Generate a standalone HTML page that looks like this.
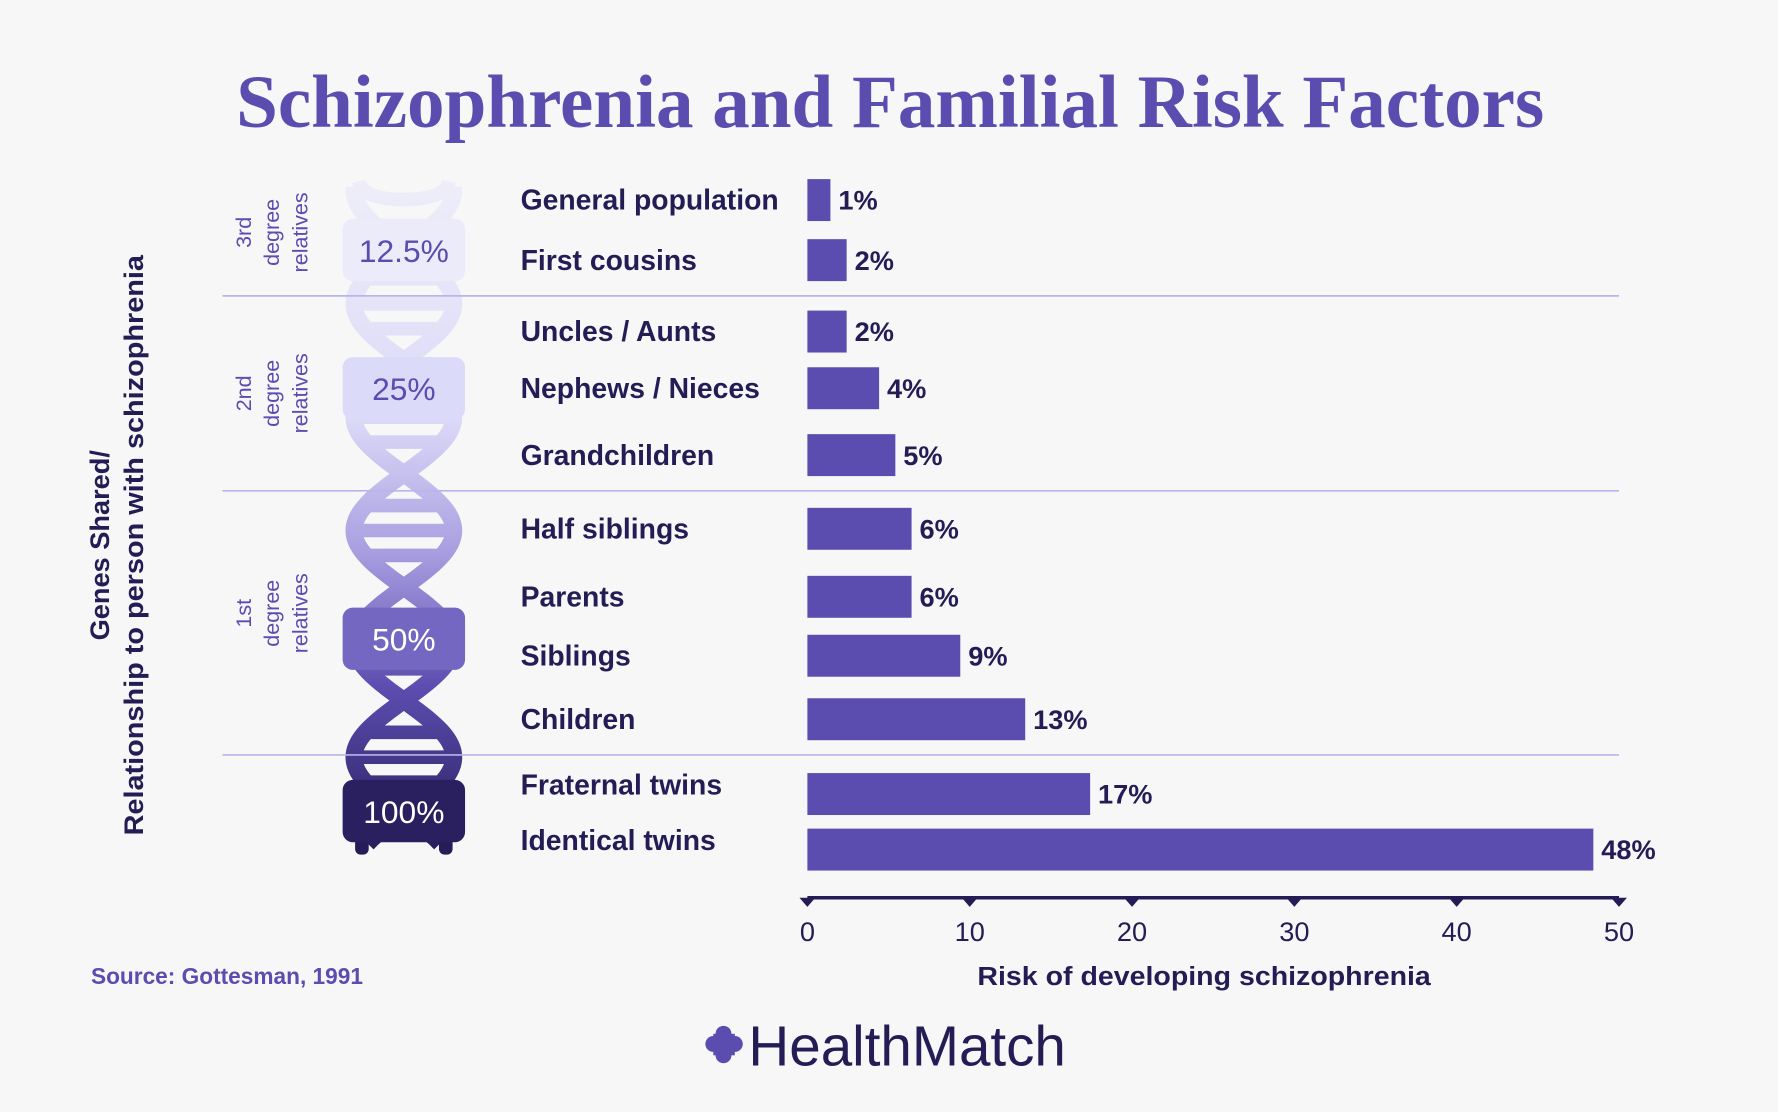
<!DOCTYPE html>
<html><head><meta charset="utf-8"><style>
html,body{margin:0;padding:0;background:#f7f7f7;}
svg{display:block;font-family:"Liberation Sans",sans-serif;}
</style></head><body>
<svg width="1778" height="1112" viewBox="0 0 1568 981" xmlns="http://www.w3.org/2000/svg">
<defs>
<linearGradient id="dg" gradientUnits="userSpaceOnUse" x1="0" y1="160" x2="0" y2="755">
<stop offset="0" stop-color="#eeedf9"/><stop offset="0.35" stop-color="#dcdaf8"/><stop offset="0.55" stop-color="#a89ee0"/><stop offset="0.75" stop-color="#5c4db0"/><stop offset="1" stop-color="#251c58"/>
</linearGradient>
</defs>
<rect width="1568" height="981" fill="#f7f7f7"/>
<text x="785" y="112" text-anchor="middle" font-family="Liberation Serif,serif" font-weight="bold" font-size="66" fill="#5b4db0" textLength="1154" lengthAdjust="spacingAndGlyphs">Schizophrenia and Familial Risk Factors</text>
<g id="dna"></g>
<g id="seps"></g>
<g id="groups"></g>
<g id="bars"></g>
<g id="axis"></g>
<text transform="translate(96,481) rotate(-90)" text-anchor="middle" font-size="24" font-weight="bold" fill="#241d55">Genes Shared/</text>
<text transform="translate(126,481) rotate(-90)" text-anchor="middle" font-size="24" font-weight="bold" fill="#241d55" textLength="512" lengthAdjust="spacingAndGlyphs">Relationship to person with schizophrenia</text>
<text x="1062" y="869" text-anchor="middle" font-size="23" font-weight="bold" fill="#241d55" textLength="400" lengthAdjust="spacingAndGlyphs">Risk of developing schizophrenia</text>
<text x="80" y="868" font-size="20" font-weight="bold" fill="#5b4db0">Source: Gottesman, 1991</text>
<g>
<g fill="#5b4db0"><circle cx="638" cy="912" r="7"/><circle cx="638" cy="931" r="7"/><circle cx="629" cy="921" r="7"/><circle cx="648" cy="921" r="7"/><rect x="629" y="912" width="19" height="19"/></g>
<text x="660" y="940" font-size="50" fill="#241d55" textLength="280" lengthAdjust="spacingAndGlyphs">HealthMatch</text>
</g>
<script>
const categories=["General population","First cousins","Uncles / Aunts","Nephews / Nieces","Grandchildren","Half siblings","Parents","Siblings","Children","Fraternal twins","Identical twins"];
const risks=[1,2,2,4,5,6,6,9,13,17,48];
const valueLabels=["1%","2%","2%","4%","5%","6%","6%","9%","13%","17%","48%"];
const ticks=[0,10,20,30,40,50];
const NS="http://www.w3.org/2000/svg";
function mk(t,a,p){const e=document.createElementNS(NS,t);for(const k in a)e.setAttribute(k,a[k]);p.appendChild(e);return e;}
const x0=712,x1=1428,xs=v=>x0+(x1-x0)*v/50;
const rowY=[176,229,292,342,401,466,526,578,634,700,749];
const bars=document.getElementById('bars');
categories.forEach((c,i)=>{
 const y=rowY[i];
 const w=xs(risks[i])-x0+6;
 const r=mk('rect',{x:x0,y:y-18,width:w,height:37,fill:'#5b4db0'},bars);
 
 
 const l=mk('text',{x:459,y:y+9+(i>=9?-8:0),'font-size':25,'font-weight':'bold',fill:'#241d55'},bars);
 l.textContent=c;
 
 
 const v=mk('text',{x:x0+w+7,y:y+9,'font-size':24,'font-weight':'bold',fill:'#241d55'},bars);
 v.textContent=valueLabels[i];
 
 
});
const ax=document.getElementById('axis');
const al=mk('line',{x1:x0,x2:x1,y1:792,y2:792,stroke:'#241d55','stroke-width':3},ax);


ticks.forEach(t=>{
 const x=xs(t);
 mk('path',{d:`M${x-7} 792 L${x+7} 792 L${x} 800 Z`,fill:'#241d55'},ax);
 const tl=mk('text',{x:x,y:830,'text-anchor':'middle','font-size':24,fill:'#241d55'},ax);
 tl.textContent=t;
 
 
});
const seps=document.getElementById('seps');
[261,433,666].forEach(y=>{
 const s=mk('line',{x1:196,x2:1428,y1:y,y2:y,stroke:'#b9b4ec','stroke-width':1.5},seps);
 
 
});
const groups=document.getElementById('groups');
[["3rd",205],["2nd",347],["1st",541]].forEach(([g,cy])=>{
 ["X degree","degree","relatives"].forEach((w,j)=>{
  const t=mk('text',{transform:`translate(${221+j*25},${cy}) rotate(-90)`,'text-anchor':'middle','font-size':19,fill:'#5b4db0'},groups);
  t.textContent=j==0?g:w;
  
  
 });
});
// DNA
const dna=document.getElementById('dna');
const cx=356,A=44,per=200,ph=218;
let p1='',p2='';
for(let y=165;y<=745;y+=3){const s=Math.sin(Math.PI*2*(y-ph)/per)*A;p1+=(p1?'L':'M')+(cx+s)+' '+y;p2+=(p2?'L':'M')+(cx-s)+' '+y;}
mk('path',{d:p1,stroke:'url(#dg)','stroke-width':15,fill:'none'},dna);
mk('path',{d:p2,stroke:'url(#dg)','stroke-width':15,fill:'none'},dna);
for(let c=268;c<740;c+=100){[-22,0,22].forEach(o=>{const y=c+o;const w=Math.abs(Math.sin(Math.PI*2*(y-ph)/per)*A);mk('rect',{x:cx-w,y:y-6,width:2*w,height:12,rx:5,fill:'url(#dg)'},dna);});}
mk('path',{d:'M316 160 Q320 176 356 176 Q392 176 396 160',stroke:'url(#dg)','stroke-width':12,fill:'none'},dna);
mk('rect',{x:313,y:738,width:12,height:16,rx:5,fill:'#251c58'},dna);
mk('rect',{x:387,y:738,width:12,height:16,rx:5,fill:'#251c58'},dna);
[["12.5%",193,'#ecebfa','#5b4db0'],["25%",315,'#dcdaf9','#5b4db0'],["50%",536,'#7467c2','#ffffff'],["100%",688,'#2a2060','#ffffff']].forEach(([t,y,f,tc])=>{
 mk('rect',{x:302,y:y,width:108,height:55,rx:9,fill:f},dna);
 const tx=mk('text',{x:356,y:y+38,'text-anchor':'middle','font-size':28,fill:tc},dna);
 tx.textContent=t;
 
 
});
</script>
</svg>
</body></html>
